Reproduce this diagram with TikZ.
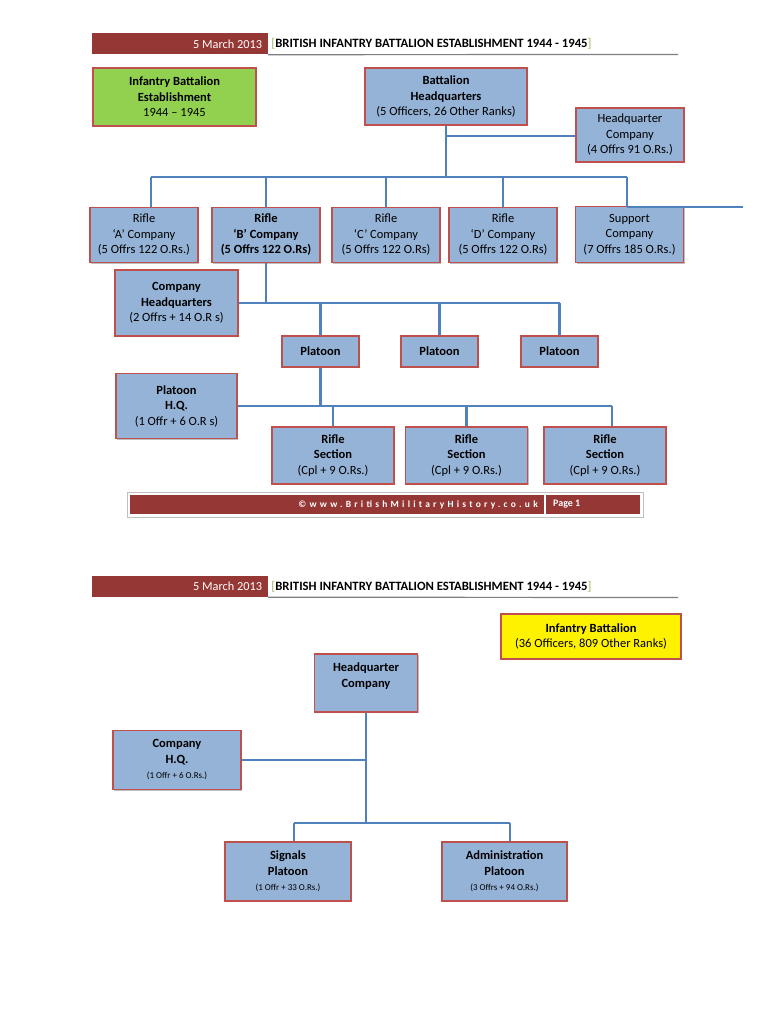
\documentclass[tikz,border=0pt]{standalone}
\usepackage{fontspec}
\setmainfont{Carlito}
\usetikzlibrary{shadows}
\definecolor{boxblue}{HTML}{95B3D7}
\definecolor{boxred}{HTML}{C0504D}
\definecolor{linkblue}{HTML}{4F81BD}
\definecolor{hdrred}{HTML}{953735}
\definecolor{brgreen}{HTML}{9BBB59}
\definecolor{greenfill}{HTML}{92D050}
\definecolor{hdrline}{HTML}{7F7F7F}
\definecolor{footgrey}{HTML}{BFBFBF}
\tikzset{
  orgbox/.style={draw=boxred, line width=1.4pt, fill=boxblue, align=center, inner sep=0pt,
    font=\fontsize{12.5}{15.5}\selectfont,
    drop shadow={shadow xshift=1.2pt, shadow yshift=-1.2pt, opacity=0.25, fill=black}},
  boldbox/.style={orgbox, font=\fontsize{12.5}{15.5}\selectfont\bfseries},
  conn/.style={draw=linkblue, line width=2.2pt},
  hdrbar/.style={fill=hdrred, inner sep=0pt, minimum width=176pt, minimum height=21pt},
  hdrdate/.style={anchor=east, text=white, inner sep=0pt, font=\fontsize{12.3}{14}\selectfont},
  hdrtitle/.style={anchor=west, inner sep=0pt, font=\fontsize{12.7}{14}\selectfont\bfseries},
  hdrrule/.style={draw=hdrline, line width=1.2pt},
}
\newcommand{\sml}[1]{{\fontsize{9}{10}\selectfont #1}}
\newcommand{\ttl}{\textcolor{brgreen}{\mdseries[}BRITISH INFANTRY BATTALION ESTABLISHMENT 1944 - 1945\textcolor{brgreen}{\mdseries]}}
\begin{document}
\begin{tikzpicture}[x=1pt,y=-1pt]
\useasboundingbox[fill=white] (0,0) rectangle (768,1024);

% ---------- page 1 header ----------
\node[hdrbar] (bar1) at (180,44) {};
\node[hdrdate] (date1) at ([xshift=-6pt]bar1.east) {5 March 2013};
\node[hdrtitle] (title1) at ([xshift=3pt]bar1.east) {\ttl};
\coordinate (rule1) at (678,54.5);
\draw[hdrrule] (bar1.south east) -- (rule1);

% ---------- page 1 boxes ----------
\node[orgbox, fill=greenfill, minimum width=163pt, minimum height=58pt] (est) at (174.5,97)
  {\textbf{Infantry Battalion}\\\textbf{Establishment}\\1944 – 1945};
\node[orgbox, minimum width=162pt, minimum height=57pt] (bhq) at (446,96.5)
  {\textbf{Battalion}\\\textbf{Headquarters}\\(5 Officers, 26 Other Ranks)};
\node[orgbox, minimum width=108pt, minimum height=54pt] (hqco) at (630,135)
  {Headquarter\\Company\\(4 Offrs 91 O.Rs.)};

\node[orgbox, minimum width=108pt, minimum height=55pt] (rA) at (144,235)
  {Rifle\\‘A’ Company\\(5 Offrs 122 O.Rs.)};
\node[boldbox, minimum width=108pt, minimum height=55pt] (rB) at (266,235)
  {Rifle\\‘B’ Company\\(5 Offrs 122 O.Rs)};
\node[orgbox, minimum width=108pt, minimum height=55pt] (rC) at (386,235)
  {Rifle\\‘C’ Company\\(5 Offrs 122 O.Rs)};
\node[orgbox, minimum width=108pt, minimum height=55pt] (rD) at (503,235)
  {Rifle\\‘D’ Company\\(5 Offrs 122 O.Rs)};
\node[orgbox, minimum width=108pt, minimum height=56pt] (rS) at (629.5,234.5)
  {Support\\Company\\(7 Offrs 185 O.Rs.)};

\node[orgbox, minimum width=123pt, minimum height=66pt] (chq) at (176.5,303)
  {\textbf{Company}\\\textbf{Headquarters}\\(2 Offrs + 14 O.R s)};
\node[boldbox, minimum width=77pt, minimum height=31pt] (p1) at (320.5,351.5) {Platoon};
\node[boldbox, minimum width=77pt, minimum height=31pt] (p2) at (439.5,351.5) {Platoon};
\node[boldbox, minimum width=77pt, minimum height=31pt] (p3) at (559.5,351.5) {Platoon};

\node[orgbox, minimum width=121pt, minimum height=65pt] (phq) at (176.5,406)
  {\textbf{Platoon}\\\textbf{H.Q.}\\(1 Offr + 6 O.R s)};
\node[orgbox, minimum width=122pt, minimum height=57pt] (s1) at (333,455.5)
  {\textbf{Rifle}\\\textbf{Section}\\(Cpl + 9 O.Rs.)};
\node[orgbox, minimum width=122pt, minimum height=57pt] (s2) at (466.5,455.5)
  {\textbf{Rifle}\\\textbf{Section}\\(Cpl + 9 O.Rs.)};
\node[orgbox, minimum width=122pt, minimum height=57pt] (s3) at (605,455.5)
  {\textbf{Rifle}\\\textbf{Section}\\(Cpl + 9 O.Rs.)};

% ---------- page 1 connectors ----------
\coordinate (j1) at (446,136);
\coordinate (busM) at (446,177);
\coordinate (busL) at (151,177);
\coordinate (busR) at (627,177);
\draw[conn] (bhq.south) -- (busM);
\draw[conn] (j1) -- (j1 -| hqco.west);
\draw[conn] (busL) -- (busR);
\draw[conn] (busL) -- (busL |- rA.north);
\draw[conn] (rB.north |- busM) -- (rB.north);
\draw[conn] (rC.north |- busM) -- (rC.north);
\draw[conn] (rD.north |- busM) -- (rD.north);
\draw[conn] (busR) -- (busR |- rS.north);
\coordinate (stray) at (743,207);
\draw[draw=linkblue, line width=1.2pt] (busR |- stray) -- (stray);

\coordinate (cbusR) at (559.5,303);
\draw[conn] (rB.south) -- (rB.south |- chq.east);
\draw[conn] (chq.east) -- (cbusR);
\draw[conn] (p1.north |- chq.east) -- (p1.north);
\draw[conn] (p2.north |- chq.east) -- (p2.north);
\draw[conn] (cbusR) -- (p3.north);

\coordinate (sbusR) at (612,406);
\draw[conn] (p1.south) -- (p1.south |- phq.east);
\draw[conn] (phq.east) -- (sbusR);
\draw[conn] (s1.north |- phq.east) -- (s1.north);
\draw[conn] (s2.north |- phq.east) -- (s2.north);
\draw[conn] (sbusR) -- (sbusR |- s3.north);

% ---------- page 1 footer ----------
\node[draw=footgrey, line width=0.9pt, fill=white, minimum width=516pt, minimum height=25pt, inner sep=0pt] (foot) at (385,504.5) {};
\node[fill=hdrred, minimum width=510pt, minimum height=19pt, inner sep=0pt] (footin) at (foot.center) {};
\coordinate (divT) at (545,494);
\coordinate (divB) at (545,515);
\draw[white, line width=1.5pt] (divT) -- (divB);
\node[anchor=east, text=white, inner sep=0pt, font=\fontsize{9.5}{11}\selectfont\bfseries\addfontfeature{LetterSpace=34}] (url) at (538,504.5) {©www.BritishMilitaryHistory.co.uk};
\node[anchor=west, text=white, inner sep=0pt, font=\fontsize{10}{11}\selectfont\bfseries] (pg) at (553,504.5) {Page 1};

% ---------- page 2 header ----------
\node[hdrbar] (bar2) at (180,586.5) {};
\node[hdrdate] (date2) at ([xshift=-6pt]bar2.east) {5 March 2013};
\node[hdrtitle] (title2) at ([xshift=3pt]bar2.east) {\ttl};
\coordinate (rule2) at (678,597.5);
\draw[hdrrule] (bar2.south east) -- (rule2);

% ---------- page 2 boxes ----------
\node[orgbox, fill=yellow, minimum width=180pt, minimum height=45pt] (inf) at (591,636.5)
  {\textbf{Infantry Battalion}\\(36 Officers, 809 Other Ranks)};
\node[orgbox, minimum width=103pt, minimum height=58pt] (hq2) at (366,683)
  {\textbf{Headquarter}\\\textbf{Company}\\~};
\node[orgbox, minimum width=128pt, minimum height=59pt] (chq2) at (177,760)
  {\textbf{Company}\\\textbf{H.Q.}\\\sml{(1 Offr + 6 O.Rs.)}};
\node[orgbox, minimum width=126pt, minimum height=59pt] (sig) at (288,871.5)
  {\textbf{Signals}\\\textbf{Platoon}\\\sml{(1 Offr + 33 O.Rs.)}};
\node[orgbox, minimum width=125pt, minimum height=59pt] (adm) at (504.5,871.5)
  {\textbf{Administration}\\\textbf{Platoon}\\\sml{(3 Offrs + 94 O.Rs.)}};

% ---------- page 2 connectors ----------
\coordinate (b2L) at (294,823);
\coordinate (b2R) at (510,823);
\draw[conn] (hq2.south) -- (hq2.south |- b2L);
\draw[conn] (chq2.east) -- (chq2.east -| hq2.south);
\draw[conn] (b2L) -- (b2R);
\draw[conn] (b2L) -- (b2L |- sig.north);
\draw[conn] (b2R) -- (b2R |- adm.north);
\end{tikzpicture}
\end{document}
